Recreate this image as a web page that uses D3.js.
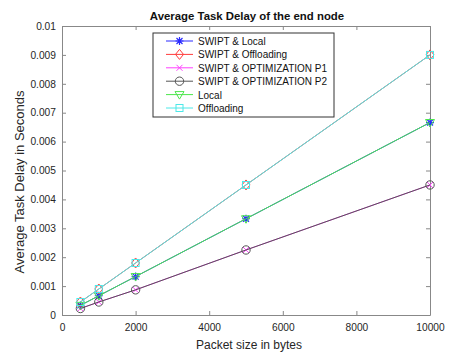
<!DOCTYPE html>
<html><head><meta charset="utf-8">
<script src="https://cdn.jsdelivr.net/npm/d3@7"></script>
<style>body{margin:0;background:#fff}svg{display:block;font-family:"Liberation Sans",Arial,sans-serif}</style>
</head><body><svg id="c" width="474" height="355"></svg>
<script>
const packetSizes = [500, 1000, 2000, 5000, 10000];
const swiptLocal = [0.000333, 0.000666, 0.00133, 0.00333, 0.00666];
const swiptOffloading = [0.00045, 0.0009, 0.0018, 0.0045, 0.009];
const swiptOptP1 = [0.000225, 0.00045, 0.00087, 0.00225, 0.0045];
const swiptOptP2 = [0.000225, 0.00045, 0.00087, 0.00225, 0.0045];
const local = [0.000333, 0.000666, 0.00133, 0.00333, 0.00666];
const offloading = [0.00045, 0.0009, 0.0018, 0.0045, 0.009];
const seriesNames = ["SWIPT & Local","SWIPT & Offloading","SWIPT & OPTIMIZATION P1","SWIPT & OPTIMIZATION P2","Local","Offloading"];
const seriesColors = ["#2b2bff","#ff3b3b","#ff40ff","#555555","#4ce64c","#4ce8e8"];
const seriesMarkers = ["star","diamond","x","circle","tridown","square"];
const seriesValues = [swiptLocal, swiptOffloading, swiptOptP1, swiptOptP2, local, offloading];
const xTicks = [0,2000,4000,6000,8000,10000];
const yTicks = [0,0.001,0.002,0.003,0.004,0.005,0.006,0.007,0.008,0.009,0.01];

const svg = d3.select("#c");
const L=62,R=430,T=26,B=315;
const x = d3.scaleLinear().domain([0,10000]).range([L,R]);
const y = d3.scaleLinear().domain([0,0.01]).range([B,T]);
const axisCol="#888", txtCol="#262626";

svg.append("rect").attr("x",L).attr("y",T).attr("width",R-L).attr("height",B-T).attr("fill","#fff");

function marker(g,type,cx,cy,col){
  const s=4;
  if(type==="star"){
    const p=d3.path();
    p.moveTo(cx-s,cy);p.lineTo(cx+s,cy);p.moveTo(cx,cy-s);p.lineTo(cx,cy+s);
    p.moveTo(cx-3,cy-3);p.lineTo(cx+3,cy+3);p.moveTo(cx-3,cy+3);p.lineTo(cx+3,cy-3);
    g.append("path").attr("d",p.toString()).attr("stroke",col).attr("stroke-width",1.2).attr("fill","none");
  } else if(type==="diamond"){
    g.append("path").attr("d",`M${cx},${cy-5}L${cx+4},${cy}L${cx},${cy+5}L${cx-4},${cy}Z`).attr("stroke",col).attr("fill","none");
  } else if(type==="x"){
    g.append("path").attr("d",`M${cx-3},${cy-3}L${cx+3},${cy+3}M${cx-3},${cy+3}L${cx+3},${cy-3}`).attr("stroke",col).attr("fill","none");
  } else if(type==="circle"){
    g.append("circle").attr("cx",cx).attr("cy",cy).attr("r",4.2).attr("stroke",col).attr("fill","none");
  } else if(type==="tridown"){
    g.append("path").attr("d",`M${cx-4.5},${cy-3}L${cx+4.5},${cy-3}L${cx},${cy+4.5}Z`).attr("stroke",col).attr("fill","none");
  } else if(type==="square"){
    g.append("rect").attr("x",cx-3.5).attr("y",cy-3.5).attr("width",7).attr("height",7).attr("stroke",col).attr("fill","none");
  }
}

// axes
const xAxis = d3.axisBottom(x).tickValues(xTicks).tickSize(-4).tickSizeOuter(0).tickFormat(d3.format("d"));
const gx = svg.append("g").attr("transform",`translate(0,${B})`).call(xAxis);
const yAxis = d3.axisLeft(y).tickValues(yTicks).tickSize(-4).tickSizeOuter(0).tickFormat(d=>d===0?"0":d3.format("")(+d.toFixed(3)));
const gy = svg.append("g").attr("transform",`translate(${L},0)`).call(yAxis);
const gxT = svg.append("g").attr("transform",`translate(0,${T})`).call(d3.axisTop(x).tickValues(xTicks).tickSize(-4).tickSizeOuter(0).tickFormat(""));
const gyR = svg.append("g").attr("transform",`translate(${R},0)`).call(d3.axisRight(y).tickValues(yTicks).tickSize(-4).tickSizeOuter(0).tickFormat(""));
[gx,gy,gxT,gyR].forEach(g=>{
  g.selectAll("path,line").attr("stroke",axisCol);
  g.selectAll("text").attr("fill",txtCol).attr("font-size",10.2).attr("font-family","Liberation Sans, Arial, sans-serif");
});
gx.selectAll("text").attr("dy","1.3em");
gy.selectAll("text").attr("dx","-0.3em");

// series
const line = d3.line().x(d=>x(d[0])).y(d=>y(d[1]));
seriesValues.forEach((vals,i)=>{
  const pts = packetSizes.map((p,j)=>[p,vals[j]]);
  svg.append("path").attr("d",line(pts)).attr("stroke",seriesColors[i]).attr("stroke-width",1).attr("fill","none");
  const g=svg.append("g");
  pts.forEach(p=>marker(g,seriesMarkers[i],x(p[0]),y(p[1]),seriesColors[i]));
});

// legend
const lg = svg.append("g");
lg.append("rect").attr("x",153).attr("y",33).attr("width",181).attr("height",84).attr("fill","#fff").attr("stroke","#333").attr("stroke-width",1);
seriesNames.forEach((n,i)=>{
  const yy = 41 + i*13.4;
  lg.append("line").attr("x1",166).attr("x2",193).attr("y1",yy).attr("y2",yy).attr("stroke",seriesColors[i]);
  marker(lg,seriesMarkers[i],179.5,yy,seriesColors[i]);
  lg.append("text").attr("x",198).attr("y",yy+4).text(n).attr("font-size",10).attr("fill","#111");
});

// title & labels
svg.append("text").attr("x",247).attr("y",20).attr("text-anchor","middle").attr("font-weight","bold").attr("font-size",11.4).attr("fill","#111").text("Average Task Delay of the end node");
svg.append("text").attr("x",249).attr("y",349).attr("text-anchor","middle").attr("font-size",12).attr("fill",txtCol).text("Packet size in bytes");
svg.append("text").attr("transform",`translate(24,182) rotate(-90)`).attr("text-anchor","middle").attr("font-size",13).attr("fill",txtCol).text("Average Task Delay in Seconds");
</script></body></html>
